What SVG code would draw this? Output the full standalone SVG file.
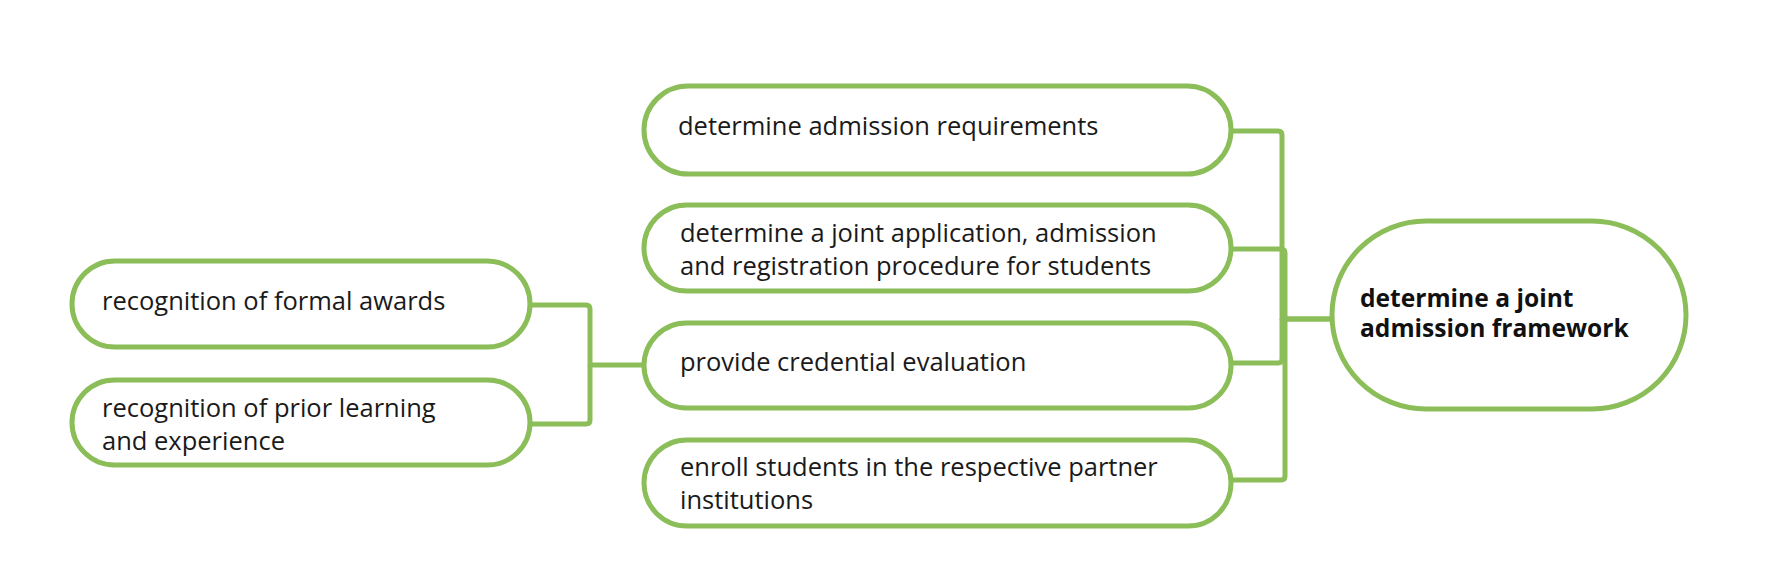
<svg xmlns="http://www.w3.org/2000/svg" width="1772" height="584" viewBox="0 0 1772 584">
<style>
.node{fill:#ffffff;stroke:#8bbd58;stroke-width:5}
.conn{fill:none;stroke:#8bbd58;stroke-width:5;stroke-linejoin:round}
.t{font-family:"Open Sans","Liberation Sans",sans-serif;font-size:25.5px;fill:#1a1a1a}
.tb{font-family:"Open Sans","Liberation Sans",sans-serif;font-size:24.6px;font-weight:bold;fill:#111}
</style>
<rect width="1772" height="584" fill="#ffffff"/>
<g id="connectors">
<path class="conn" d="M1231 131 H1278 Q1282 131 1282 135 V319 H1333"/>
<path class="conn" d="M1231 249 H1281 Q1285 249 1285 253 V319"/>
<path class="conn" d="M1231 363 H1278 Q1282 363 1282 359 V319"/>
<path class="conn" d="M1231 480 H1281 Q1285 480 1285 476 V319 H1333"/>
<path class="conn" d="M530 305 H586 Q590 305 590 309 V365 H644"/>
<path class="conn" d="M530 424 H586 Q590 424 590 420 V365"/>
</g>
<g id="n1">
<rect class="node" x="644" y="86" width="587" height="88" rx="44"/>
<text class="t" x="678" y="135">determine admission requirements</text>
</g>
<g id="n2">
<rect class="node" x="644" y="205" width="587" height="86" rx="43"/>
<text class="t" x="680" y="242">determine a joint application, admission</text>
<text class="t" x="680" y="275">and registration procedure for students</text>
</g>
<g id="n3">
<rect class="node" x="644" y="323" width="587" height="85" rx="42.5"/>
<text class="t" x="680" y="371">provide credential evaluation</text>
</g>
<g id="n4">
<rect class="node" x="644" y="440" width="587" height="86" rx="43"/>
<text class="t" x="680" y="476">enroll students in the respective partner</text>
<text class="t" x="680" y="509">institutions</text>
</g>
<g id="nA">
<rect class="node" x="72" y="261" width="458" height="86" rx="43"/>
<text class="t" x="102" y="310">recognition of formal awards</text>
</g>
<g id="nB">
<rect class="node" x="72" y="380" width="458" height="85" rx="42.5"/>
<text class="t" x="102" y="417">recognition of prior learning</text>
<text class="t" x="102" y="450">and experience</text>
</g>
<g id="center">
<rect class="node" x="1332" y="221" width="354" height="188" rx="94"/>
<text class="tb" x="1360" y="307">determine a joint</text>
<text class="tb" x="1360" y="337">admission framework</text>
</g>
</svg>
